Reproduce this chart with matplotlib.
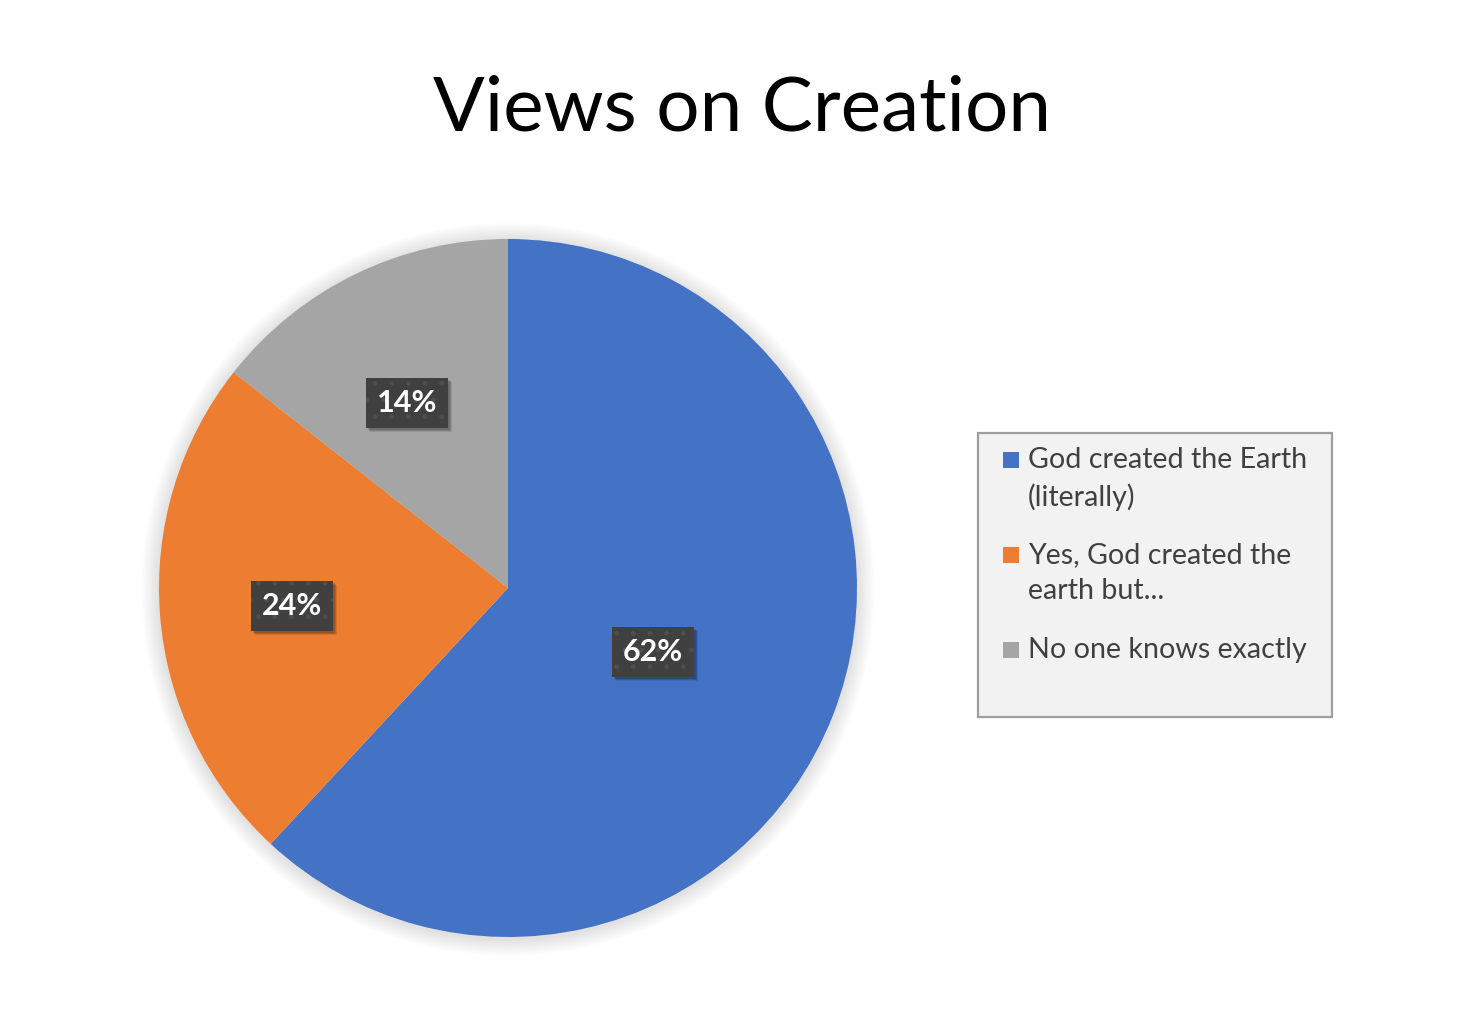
import math
import matplotlib.pyplot as plt
from matplotlib.patches import Rectangle, Circle

plt.rcParams['font.family'] = ['Lato', 'DejaVu Sans']

title = 'Views on Creation'
labels = ['God created the Earth\n(literally)', 'Yes, God created the\nearth but...', 'No one knows exactly']
values = [61.9, 23.7, 14.4]
colors = ['#4472C4', '#ED7D31', '#A5A5A5']
# data label placement (Excel "best fit"): distance from centre, angle tweak in degrees
label_dist = [0.454, 0.621, 0.604]
label_turn = [-2.4, 0.3, 2.7]

W, H = 1468, 1036
fig = plt.figure(figsize=(W / 100, H / 100), dpi=100)

# pie axes: centre (508, 588) px, radius 349 px
cx, cy, r = 508, 588, 349
ax = fig.add_axes([(cx - r) / W, (H - cy - r) / H, 2 * r / W, 2 * r / H])
ax.set_xlim(-1, 1)
ax.set_ylim(-1, 1)
ax.set_aspect('equal')
ax.axis('off')

# soft shadow behind the pie
for k in range(10):
    ax.add_patch(Circle((0.0, -0.004), 1.0 + 0.005 * (k + 1), facecolor='#000000',
                        alpha=0.01, edgecolor='none', zorder=0, clip_on=False))

wedges, _ = ax.pie(values, colors=colors, startangle=90, counterclock=False,
                   radius=1.0, wedgeprops=dict(linewidth=0, zorder=1))
ax.set_xlim(-1, 1)
ax.set_ylim(-1, 1)

total = sum(values)
start = 90.0
pct_texts = []
for v, d, turn in zip(values, label_dist, label_turn):
    sweep = 360.0 * v / total
    mid = math.radians(start - sweep / 2 + turn)
    start -= sweep
    t = ax.text(d * math.cos(mid), d * math.sin(mid), f'{v:.0f}%', ha='center', va='center',
                fontsize=22, fontweight='bold', color='white', zorder=5,
                bbox=dict(boxstyle='square,pad=0.36', facecolor='#404040',
                          edgecolor='#4f4f4f', linewidth=0, hatch='.'))
    pct_texts.append(t)

# soft drop shadow under each label box
fig.canvas.draw()
for t in pct_texts:
    bb = t.get_bbox_patch().get_window_extent()
    for s, a in [(4, 0.10), (3, 0.14), (2, 0.14)]:
        ax.add_patch(Rectangle(((bb.x0 + s) / W, (bb.y0 - s) / H), bb.width / W, bb.height / H,
                               transform=fig.transFigure, facecolor='black', alpha=a,
                               edgecolor='none', zorder=4))

fig.text(742 / W, 1 - 109 / H, title, ha='center', va='center', fontsize=55, color='black')

# legend box
lx0, ly0, lx1, ly1 = 978, 433, 1332, 717
fig.patches.append(Rectangle((lx0 / W, 1 - ly1 / H), (lx1 - lx0) / W, (ly1 - ly0) / H,
                             transform=fig.transFigure, facecolor='#F2F2F2',
                             edgecolor='#9E9E9E', linewidth=1.6))
row_y = [460, 555, 650]
for lab, col, yy in zip(labels, colors, row_y):
    fig.patches.append(Rectangle((1003 / W, 1 - (yy + 8) / H), 16 / W, 16 / H,
                                 transform=fig.transFigure, facecolor=col, edgecolor='none'))
    fig.text(1028 / W, 1 - (yy - 13) / H, lab, ha='left', va='top', fontsize=20.6,
             color='#404040', linespacing=1.48)

fig.savefig('out.png', dpi=100)
